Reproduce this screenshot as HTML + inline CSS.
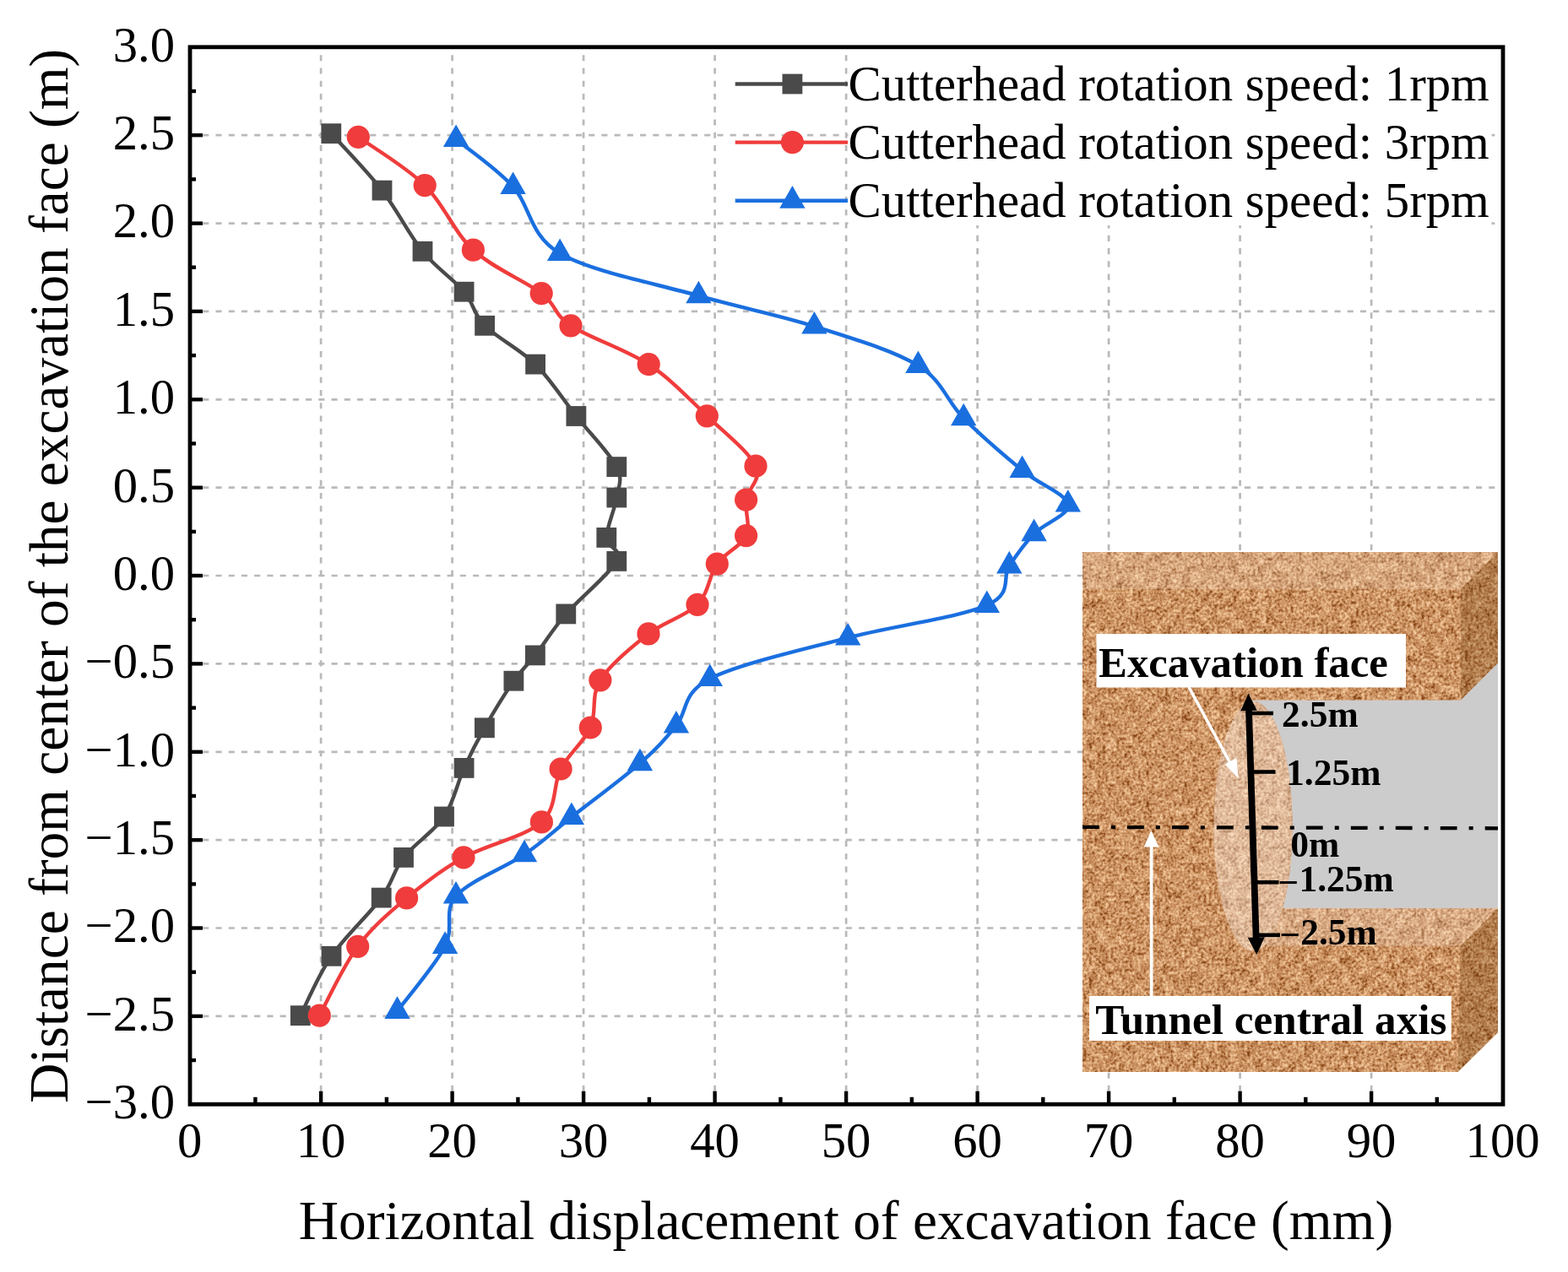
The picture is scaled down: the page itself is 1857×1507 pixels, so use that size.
<!DOCTYPE html>
<html lang="en">
<head>
<meta charset="utf-8">
<title>Horizontal displacement of excavation face</title>
<style>
html,body{margin:0;padding:0;background:#fff;}
body{width:1857px;height:1507px;overflow:hidden;}
svg{display:block;}
text{font-family:'Liberation Serif','Times New Roman',Times,serif;fill:#000;}
.tick{font-size:58.7px;}
.title{font-size:65.3px;}
.leg{font-size:58.8px;}
.b{font-weight:bold;}
</style>
</head>
<body>
<svg width="1857" height="1507" viewBox="0 0 1857 1507">
<defs>
<filter id="sand" x="0" y="0" width="100%" height="100%" filterUnits="objectBoundingBox" color-interpolation-filters="sRGB">
<feTurbulence type="fractalNoise" baseFrequency="0.31" numOctaves="2" seed="4"/>
<feColorMatrix type="matrix" values="1 0 0 0 0  1 0 0 0 0  1 0 0 0 0  0 0 0 0 1" result="fine"/>
<feTurbulence type="fractalNoise" baseFrequency="0.09" numOctaves="2" seed="9"/>
<feColorMatrix type="matrix" values="1 0 0 0 0  1 0 0 0 0  1 0 0 0 0  0 0 0 0 1" result="coarse"/>
<feComposite in="fine" in2="coarse" operator="arithmetic" k1="0" k2="0.78" k3="0.42" k4="-0.10" result="n"/>
<feColorMatrix in="n" type="matrix" values="1.9 0 0 0 -0.45  1.9 0 0 0 -0.45  1.9 0 0 0 -0.45  0 0 0 0 1" result="g"/>
<feComponentTransfer in="g" result="c">
<feFuncR type="table" tableValues="0.52 0.70 0.805 0.89 0.96"/>
<feFuncG type="table" tableValues="0.27 0.46 0.58 0.70 0.80"/>
<feFuncB type="table" tableValues="0.08 0.27 0.39 0.52 0.63"/>
</feComponentTransfer>
<feGaussianBlur in="c" stdDeviation="0.5" result="cb"/>
<feComposite in="cb" in2="SourceGraphic" operator="in"/>
</filter>
</defs>
<rect x="0" y="0" width="1857" height="1507" fill="#ffffff"/>

<g stroke="#b9b9b9" stroke-width="2.7" fill="none">
<line x1="380.1" y1="1308.3" x2="380.1" y2="55.8" stroke-dasharray="7.1 8.16"/>
<line x1="535.6" y1="1308.3" x2="535.6" y2="55.8" stroke-dasharray="7.1 8.16"/>
<line x1="691.1" y1="1308.3" x2="691.1" y2="55.8" stroke-dasharray="7.1 8.16"/>
<line x1="846.6" y1="1308.3" x2="846.6" y2="55.8" stroke-dasharray="7.1 8.16"/>
<line x1="1002.1" y1="1308.3" x2="1002.1" y2="55.8" stroke-dasharray="7.1 8.16"/>
<line x1="1157.6" y1="1308.3" x2="1157.6" y2="55.8" stroke-dasharray="7.1 8.16"/>
<line x1="1313.1" y1="1308.3" x2="1313.1" y2="55.8" stroke-dasharray="7.1 8.16"/>
<line x1="1468.6" y1="1308.3" x2="1468.6" y2="55.8" stroke-dasharray="7.1 8.16"/>
<line x1="1624.1" y1="1308.3" x2="1624.1" y2="55.8" stroke-dasharray="7.1 8.16"/>
<line x1="225.0" y1="160.2" x2="1780.0" y2="160.2" stroke-dasharray="7.1 8.13"/>
<line x1="225.0" y1="264.6" x2="1780.0" y2="264.6" stroke-dasharray="7.1 8.13"/>
<line x1="225.0" y1="368.9" x2="1780.0" y2="368.9" stroke-dasharray="7.1 8.13"/>
<line x1="225.0" y1="473.3" x2="1780.0" y2="473.3" stroke-dasharray="7.1 8.13"/>
<line x1="225.0" y1="577.7" x2="1780.0" y2="577.7" stroke-dasharray="7.1 8.13"/>
<line x1="225.0" y1="682.0" x2="1780.0" y2="682.0" stroke-dasharray="7.1 8.13"/>
<line x1="225.0" y1="786.4" x2="1780.0" y2="786.4" stroke-dasharray="7.1 8.13"/>
<line x1="225.0" y1="890.8" x2="1780.0" y2="890.8" stroke-dasharray="7.1 8.13"/>
<line x1="225.0" y1="995.2" x2="1780.0" y2="995.2" stroke-dasharray="7.1 8.13"/>
<line x1="225.0" y1="1099.5" x2="1780.0" y2="1099.5" stroke-dasharray="7.1 8.13"/>
<line x1="225.0" y1="1203.9" x2="1780.0" y2="1203.9" stroke-dasharray="7.1 8.13"/>
</g>
<rect x="1004.5" y="62" width="762" height="205" fill="#ffffff"/>
<g id="inset">
<!-- front face -->
<polygon points="1282,654 1774,654 1774,1223 1726.5,1270 1282,1270" fill="#c98f5f"/>
<polygon points="1282,654 1774,654 1774,1223 1726.5,1270 1282,1270" fill="#c98f5c" filter="url(#sand)"/>
<!-- top face lighter -->
<polygon points="1282,654 1774,654 1730,698 1282,698" fill="#fff0e0" opacity="0.20"/>
<!-- right face darker -->
<polygon points="1774,654 1774,786 1730,830 1730,698" fill="#5a2c00" opacity="0.24"/>
<polygon points="1774,1076 1774,1223 1726.5,1270 1729.5,1120.5" fill="#5a2c00" opacity="0.24"/>
<!-- tunnel (grey) -->
<polygon points="1484,829.5 1730,829.5 1774,785.5 1774,1076 1484,1076" fill="#cdcccc"/>
<!-- tunnel floor lighter band -->
<polygon points="1520,1076 1774,1076 1729.5,1120.5 1500,1120.5" fill="#fff4ea" opacity="0.24"/>
<!-- excavation face ellipse -->
<ellipse cx="1484" cy="979" rx="46.5" ry="148" fill="#c98f5f"/>
<ellipse cx="1484" cy="979" rx="46.5" ry="148" fill="#d9a77c" filter="url(#sand)"/>
<ellipse cx="1484" cy="979" rx="46.5" ry="148" fill="#fff8f2" opacity="0.38"/>
<!-- centre line -->
<line x1="1282" y1="979.9" x2="1774" y2="981.3" stroke="#000" stroke-width="4.3" stroke-dasharray="19.8 14.1 5 14.07"/>
<!-- vertical double arrow -->
<line x1="1478.9" y1="838" x2="1487.7" y2="1114" stroke="#000" stroke-width="7.8"/>
<polygon points="1478.5,821.5 1488.7,841.8 1469.3,842.2"/>
<polygon points="1488.2,1131 1477.8,1110.8 1497.8,1110.3"/>
<g stroke="#000" stroke-width="4.6">
<line x1="1480" y1="845" x2="1508" y2="845"/>
<line x1="1481.5" y1="914.5" x2="1510.5" y2="914.5"/>
<line x1="1485" y1="1045.3" x2="1514.5" y2="1045.3"/>
<line x1="1486.5" y1="1107.8" x2="1516" y2="1107.8"/>
</g>
<g class="b" font-size="43.5">
<text x="1518" y="861" font-weight="bold">2.5m</text>
<text x="1523" y="929.5" font-weight="bold">1.25m</text>
<text x="1528.3" y="1014.9" font-weight="bold">0m</text>
<text x="1513.6" y="1055.8" font-weight="bold"><tspan dy="4">−</tspan><tspan dy="-4">1.25m</tspan></text>
<text x="1515.4" y="1119" font-weight="bold"><tspan dy="3.3">−</tspan><tspan dy="-3.3">2.5m</tspan></text>
</g>
<!-- labels -->
<rect x="1298.5" y="751" width="366.5" height="63.5" fill="#fff"/>
<text x="1301" y="801.5" font-size="50.8" font-weight="bold">Excavation face</text>
<rect x="1290" y="1180" width="428.8" height="53" fill="#fff"/>
<text x="1297.2" y="1224.8" font-size="51.2" font-weight="bold">Tunnel central axis</text>
<!-- white arrows -->
<line x1="1408" y1="814" x2="1459" y2="908" stroke="#fff" stroke-width="3.6"/>
<polygon points="1466.5,922 1450.5,905.5 1464.5,898" fill="#fff"/>
<line x1="1363.6" y1="1181" x2="1363.6" y2="1001" stroke="#fff" stroke-width="3.8"/>
<polygon points="1363.4,984 1372.3,1003.5 1354.7,1003.5" fill="#fff"/>
</g>

<g fill="none" stroke-width="4.4" stroke-linejoin="round" stroke-linecap="round">
<path stroke="#4a4a4a" d="M392.3,158.2 C402.3,169.4 434.5,202.3 452.5,225.6 C470.5,248.9 484.3,277.8 500.5,297.8 C516.7,317.8 537.3,331.0 549.6,345.7 C561.9,360.4 560.0,371.5 574.1,385.8 C588.2,400.1 616.1,413.7 634.1,431.6 C652.1,449.5 666.4,472.8 682.4,493.0 C698.4,513.2 722.3,537.0 730.3,553.1 C738.3,569.2 732.3,575.5 730.3,589.5 C728.3,603.5 718.3,624.3 718.3,636.9 C718.3,649.5 738.3,649.8 730.3,664.9 C722.3,680.0 686.4,708.8 670.3,727.4 C654.2,746.0 644.2,763.2 633.9,776.4 C623.6,789.6 618.4,792.4 608.4,806.7 C598.4,821.0 583.7,845.1 573.9,862.3 C564.1,879.5 557.6,892.4 549.6,909.9 C541.6,927.4 537.9,949.8 526.0,967.5 C514.1,985.2 490.4,999.9 478.0,1015.9 C465.6,1031.9 465.9,1044.1 451.7,1063.6 C437.4,1083.1 408.5,1109.5 392.5,1132.8 C376.5,1156.1 361.9,1191.5 355.8,1203.2"/>
<path stroke="#f03c3c" d="M424.3,162.3 C437.4,171.9 480.5,197.3 503.2,219.6 C525.9,241.9 537.4,274.9 560.4,296.2 C583.4,317.5 621.9,332.7 641.2,347.6 C660.5,362.5 654.8,371.8 676.0,385.8 C697.2,399.8 741.3,413.9 768.2,431.7 C795.1,449.5 816.2,472.7 837.3,492.8 C858.4,512.9 887.3,535.7 895.0,552.2 C902.7,568.8 885.5,578.4 883.6,592.1 C881.7,605.8 889.3,621.9 883.6,634.6 C877.9,647.3 858.9,654.5 849.3,668.1 C839.7,681.7 839.5,702.5 826.0,716.3 C812.5,730.1 787.2,736.0 768.0,750.9 C748.8,765.8 722.4,787.3 710.9,805.8 C699.4,824.3 707.1,844.5 699.3,862.0 C691.5,879.5 673.8,892.4 664.1,911.0 C654.5,929.6 660.6,956.4 641.4,973.9 C622.2,991.4 575.6,1000.9 549.0,1015.9 C522.4,1030.9 502.5,1046.3 481.6,1063.9 C460.7,1081.5 440.9,1098.1 423.7,1121.3 C406.5,1144.5 385.9,1189.5 378.3,1203.1"/>
<path stroke="#1a6fdf" d="M540.1,165.1 C551.4,174.4 587.1,198.6 607.6,221.1 C628.1,243.6 626.5,278.6 663.1,300.2 C699.7,321.8 777.2,336.0 827.4,350.4 C877.6,364.8 921.1,372.8 964.4,386.6 C1007.7,400.4 1057.9,415.1 1087.4,433.2 C1116.9,451.3 1120.7,474.7 1141.2,495.4 C1161.7,516.1 1190.0,540.2 1210.6,557.2 C1231.2,574.2 1262.5,585.1 1264.8,597.6 C1267.1,610.1 1236.2,620.1 1224.6,632.3 C1213.0,644.4 1204.6,656.4 1195.3,670.5 C1186.0,684.6 1200.6,702.9 1168.8,717.1 C1137.0,731.3 1058.9,741.1 1004.2,755.6 C949.5,770.1 874.7,786.8 840.8,804.1 C806.9,821.5 814.7,843.0 800.9,859.7 C787.1,876.4 778.6,886.3 757.9,904.4 C737.2,922.5 699.7,950.1 676.9,968.1 C654.1,986.1 643.8,996.8 621.0,1012.4 C598.2,1028.0 555.6,1043.5 540.0,1061.6 C524.4,1079.7 538.7,1098.3 527.1,1121.0 C515.5,1143.7 479.9,1185.2 470.5,1198.0"/>
</g>
<g fill="#4a4a4a"><rect x="380.4" y="146.3" width="23.8" height="23.8"/><rect x="440.6" y="213.7" width="23.8" height="23.8"/><rect x="488.6" y="285.9" width="23.8" height="23.8"/><rect x="537.7" y="333.8" width="23.8" height="23.8"/><rect x="562.2" y="373.9" width="23.8" height="23.8"/><rect x="622.2" y="419.7" width="23.8" height="23.8"/><rect x="670.5" y="481.1" width="23.8" height="23.8"/><rect x="718.4" y="541.2" width="23.8" height="23.8"/><rect x="718.4" y="577.6" width="23.8" height="23.8"/><rect x="706.4" y="625.0" width="23.8" height="23.8"/><rect x="718.4" y="653.0" width="23.8" height="23.8"/><rect x="658.4" y="715.5" width="23.8" height="23.8"/><rect x="622.0" y="764.5" width="23.8" height="23.8"/><rect x="596.5" y="794.8" width="23.8" height="23.8"/><rect x="562.0" y="850.4" width="23.8" height="23.8"/><rect x="537.7" y="898.0" width="23.8" height="23.8"/><rect x="514.1" y="955.6" width="23.8" height="23.8"/><rect x="466.1" y="1004.0" width="23.8" height="23.8"/><rect x="439.8" y="1051.7" width="23.8" height="23.8"/><rect x="380.6" y="1120.9" width="23.8" height="23.8"/><rect x="343.9" y="1191.3" width="23.8" height="23.8"/></g>
<g fill="#f03c3c"><circle cx="424.3" cy="162.3" r="13.6"/><circle cx="503.2" cy="219.6" r="13.6"/><circle cx="560.4" cy="296.2" r="13.6"/><circle cx="641.2" cy="347.6" r="13.6"/><circle cx="676.0" cy="385.8" r="13.6"/><circle cx="768.2" cy="431.7" r="13.6"/><circle cx="837.3" cy="492.8" r="13.6"/><circle cx="895.0" cy="552.2" r="13.6"/><circle cx="883.6" cy="592.1" r="13.6"/><circle cx="883.6" cy="634.6" r="13.6"/><circle cx="849.3" cy="668.1" r="13.6"/><circle cx="826.0" cy="716.3" r="13.6"/><circle cx="768.0" cy="750.9" r="13.6"/><circle cx="710.9" cy="805.8" r="13.6"/><circle cx="699.3" cy="862.0" r="13.6"/><circle cx="664.1" cy="911.0" r="13.6"/><circle cx="641.4" cy="973.9" r="13.6"/><circle cx="549.0" cy="1015.9" r="13.6"/><circle cx="481.6" cy="1063.9" r="13.6"/><circle cx="423.7" cy="1121.3" r="13.6"/><circle cx="378.3" cy="1203.1" r="13.6"/></g>
<g fill="#1a6fdf"><polygon points="540.1,147.4 555.3,174.0 524.9,174.0"/><polygon points="607.6,203.4 622.8,230.0 592.4,230.0"/><polygon points="663.1,282.5 678.3,309.1 647.9,309.1"/><polygon points="827.4,332.7 842.6,359.3 812.2,359.3"/><polygon points="964.4,368.9 979.6,395.5 949.2,395.5"/><polygon points="1087.4,415.5 1102.6,442.1 1072.2,442.1"/><polygon points="1141.2,477.7 1156.4,504.3 1126.0,504.3"/><polygon points="1210.6,539.5 1225.8,566.1 1195.4,566.1"/><polygon points="1264.8,579.9 1280.0,606.5 1249.6,606.5"/><polygon points="1224.6,614.6 1239.8,641.2 1209.4,641.2"/><polygon points="1195.3,652.8 1210.5,679.4 1180.1,679.4"/><polygon points="1168.8,699.4 1184.0,726.0 1153.6,726.0"/><polygon points="1004.2,737.9 1019.4,764.5 989.0,764.5"/><polygon points="840.8,786.4 856.0,813.0 825.6,813.0"/><polygon points="800.9,842.0 816.1,868.6 785.7,868.6"/><polygon points="757.9,886.7 773.1,913.3 742.7,913.3"/><polygon points="676.9,950.4 692.1,977.0 661.7,977.0"/><polygon points="621.0,994.7 636.2,1021.3 605.8,1021.3"/><polygon points="540.0,1043.9 555.2,1070.5 524.8,1070.5"/><polygon points="527.1,1103.3 542.3,1129.9 511.9,1129.9"/><polygon points="470.5,1180.3 485.7,1206.9 455.3,1206.9"/></g>
<line x1="870.7" y1="99.5" x2="1004" y2="99.5" stroke="#4a4a4a" stroke-width="4.4"/>
<g fill="#4a4a4a"><rect x="926.5" y="87.6" width="23.8" height="23.8"/></g>
<text class="leg" x="1004.6" y="118.9">Cutterhead rotation speed: 1rpm</text>
<line x1="870.7" y1="168.6" x2="1004" y2="168.6" stroke="#f03c3c" stroke-width="4.4"/>
<g fill="#f03c3c"><circle cx="938.4" cy="168.6" r="13.6"/></g>
<text class="leg" x="1004.6" y="188.0">Cutterhead rotation speed: 3rpm</text>
<line x1="870.7" y1="237.8" x2="1004" y2="237.8" stroke="#1a6fdf" stroke-width="4.4"/>
<g fill="#1a6fdf"><polygon points="938.4,220.1 953.6,246.7 923.2,246.7"/></g>
<text class="leg" x="1004.6" y="257.2">Cutterhead rotation speed: 5rpm</text>
<rect x="225.0" y="55.8" width="1555.0" height="1252.5" fill="none" stroke="#000" stroke-width="4.8" stroke-linejoin="miter"/>
<g stroke="#000" stroke-width="4.4" fill="none">
<line x1="302.4" y1="1308.3" x2="302.4" y2="1299.8"/>
<line x1="380.1" y1="1308.3" x2="380.1" y2="1292.8"/>
<line x1="457.9" y1="1308.3" x2="457.9" y2="1299.8"/>
<line x1="535.6" y1="1308.3" x2="535.6" y2="1292.8"/>
<line x1="613.4" y1="1308.3" x2="613.4" y2="1299.8"/>
<line x1="691.1" y1="1308.3" x2="691.1" y2="1292.8"/>
<line x1="768.9" y1="1308.3" x2="768.9" y2="1299.8"/>
<line x1="846.6" y1="1308.3" x2="846.6" y2="1292.8"/>
<line x1="924.4" y1="1308.3" x2="924.4" y2="1299.8"/>
<line x1="1002.1" y1="1308.3" x2="1002.1" y2="1292.8"/>
<line x1="1079.8" y1="1308.3" x2="1079.8" y2="1299.8"/>
<line x1="1157.6" y1="1308.3" x2="1157.6" y2="1292.8"/>
<line x1="1235.3" y1="1308.3" x2="1235.3" y2="1299.8"/>
<line x1="1313.1" y1="1308.3" x2="1313.1" y2="1292.8"/>
<line x1="1390.8" y1="1308.3" x2="1390.8" y2="1299.8"/>
<line x1="1468.6" y1="1308.3" x2="1468.6" y2="1292.8"/>
<line x1="1546.3" y1="1308.3" x2="1546.3" y2="1299.8"/>
<line x1="1624.1" y1="1308.3" x2="1624.1" y2="1292.8"/>
<line x1="1701.8" y1="1308.3" x2="1701.8" y2="1299.8"/>
<line x1="225.0" y1="108.0" x2="232.0" y2="108.0"/>
<line x1="225.0" y1="160.2" x2="240.0" y2="160.2"/>
<line x1="225.0" y1="212.4" x2="232.0" y2="212.4"/>
<line x1="225.0" y1="264.6" x2="240.0" y2="264.6"/>
<line x1="225.0" y1="316.7" x2="232.0" y2="316.7"/>
<line x1="225.0" y1="368.9" x2="240.0" y2="368.9"/>
<line x1="225.0" y1="421.1" x2="232.0" y2="421.1"/>
<line x1="225.0" y1="473.3" x2="240.0" y2="473.3"/>
<line x1="225.0" y1="525.5" x2="232.0" y2="525.5"/>
<line x1="225.0" y1="577.7" x2="240.0" y2="577.7"/>
<line x1="225.0" y1="629.9" x2="232.0" y2="629.9"/>
<line x1="225.0" y1="682.0" x2="240.0" y2="682.0"/>
<line x1="225.0" y1="734.2" x2="232.0" y2="734.2"/>
<line x1="225.0" y1="786.4" x2="240.0" y2="786.4"/>
<line x1="225.0" y1="838.6" x2="232.0" y2="838.6"/>
<line x1="225.0" y1="890.8" x2="240.0" y2="890.8"/>
<line x1="225.0" y1="943.0" x2="232.0" y2="943.0"/>
<line x1="225.0" y1="995.2" x2="240.0" y2="995.2"/>
<line x1="225.0" y1="1047.4" x2="232.0" y2="1047.4"/>
<line x1="225.0" y1="1099.5" x2="240.0" y2="1099.5"/>
<line x1="225.0" y1="1151.7" x2="232.0" y2="1151.7"/>
<line x1="225.0" y1="1203.9" x2="240.0" y2="1203.9"/>
<line x1="225.0" y1="1256.1" x2="232.0" y2="1256.1"/>
</g>
<text class="tick" text-anchor="middle" x="224.6" y="1371">0</text>
<text class="tick" text-anchor="middle" x="380.1" y="1371">10</text>
<text class="tick" text-anchor="middle" x="535.6" y="1371">20</text>
<text class="tick" text-anchor="middle" x="691.1" y="1371">30</text>
<text class="tick" text-anchor="middle" x="846.6" y="1371">40</text>
<text class="tick" text-anchor="middle" x="1002.1" y="1371">50</text>
<text class="tick" text-anchor="middle" x="1157.6" y="1371">60</text>
<text class="tick" text-anchor="middle" x="1313.1" y="1371">70</text>
<text class="tick" text-anchor="middle" x="1468.6" y="1371">80</text>
<text class="tick" text-anchor="middle" x="1624.1" y="1371">90</text>
<text class="tick" text-anchor="middle" x="1779.6" y="1371">100</text>
<text class="tick" text-anchor="end" x="207" y="72.6">3.0</text>
<text class="tick" text-anchor="end" x="207" y="177.0">2.5</text>
<text class="tick" text-anchor="end" x="207" y="281.4">2.0</text>
<text class="tick" text-anchor="end" x="207" y="385.7">1.5</text>
<text class="tick" text-anchor="end" x="207" y="490.1">1.0</text>
<text class="tick" text-anchor="end" x="207" y="594.5">0.5</text>
<text class="tick" text-anchor="end" x="207" y="698.8">0.0</text>
<text class="tick" text-anchor="end" x="207" y="803.2">−0.5</text>
<text class="tick" text-anchor="end" x="207" y="907.6">−1.0</text>
<text class="tick" text-anchor="end" x="207" y="1012.0">−1.5</text>
<text class="tick" text-anchor="end" x="207" y="1116.3">−2.0</text>
<text class="tick" text-anchor="end" x="207" y="1220.7">−2.5</text>
<text class="tick" text-anchor="end" x="207" y="1325.1">−3.0</text>
<text class="title" text-anchor="middle" x="1002" y="1467.8">Horizontal displacement of excavation face (mm)</text>
<text class="title" text-anchor="middle" transform="translate(79.6,682.3) rotate(-90)">Distance from center of the excavation face (m)</text>
</svg>
</body>
</html>
